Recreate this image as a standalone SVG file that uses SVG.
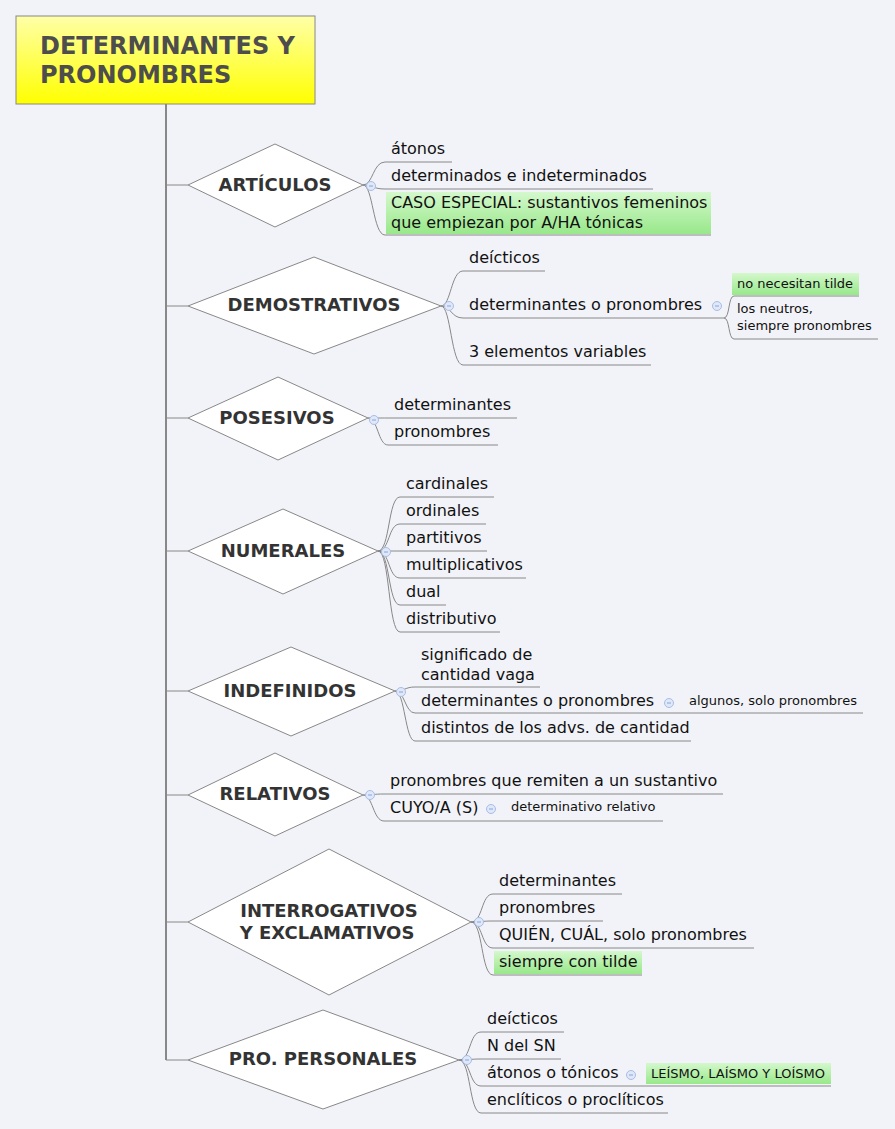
<svg xmlns="http://www.w3.org/2000/svg" width="895" height="1129" viewBox="0 0 895 1129">
<defs>
<linearGradient id="yg" x1="0" y1="0" x2="0" y2="1"><stop offset="0" stop-color="#ffffa8"/><stop offset="1" stop-color="#ffff00"/></linearGradient>
<linearGradient id="gg" x1="0" y1="0" x2="0" y2="1"><stop offset="0" stop-color="#d4f8cc"/><stop offset="1" stop-color="#98e88a"/></linearGradient>
<g id="ic"><circle r="4.5" fill="#dfe8f8" stroke="#a8bde6"/><line x1="-2" x2="2" stroke="#8aa4d8" stroke-width="1"/></g>
</defs>
<style>
text{font-family:"DejaVu Sans",sans-serif;fill:#111}
.c{font-size:16px}
.s{font-size:13px}
.d{font-size:18px;font-weight:bold;fill:#333;text-anchor:middle}
.dia{fill:#fff;stroke:#888;stroke-width:1}
.ln{fill:none;stroke:#888;stroke-width:1}
</style>
<rect width="895" height="1129" fill="#f2f3f8"/>
<g id="connectors" class="ln">
<line x1="166" y1="104" x2="166" y2="1060" stroke-width="2"/>
<path d="M166,185H188M166,306H188M166,418H188M166,551H188M166,691H188M166,795H188M166,922H188M166,1060H188"/>
<path d="M363,185C373,185 373,162 385,162H452M363,185C373,185 373,189 385,189H653M363,185C373,185 373,235 385,235H711"/>
<path d="M441,306C451,306 451,271 463,271H545M441,306C451,306 451,318 463,318H724M441,306C451,306 451,365 463,365H651"/>
<path d="M724,318C730,318 728,296 734,296H859M724,318C730,318 728,339 734,339H878"/>
<path d="M368,418C378,418 378,418 388,418H517M368,418C378,418 378,445 388,445H498"/>
<path d="M378,551C390,551 388,497 400,497H494M378,551C390,551 388,524 400,524H486M378,551C390,551 388,551 400,551H487M378,551C390,551 388,578 400,578H526M378,551C390,551 388,605 400,605H446M378,551C390,551 388,632 400,632H500"/>
<path d="M395,691C405,691 405,687 415,687H540M395,691C405,691 405,713 415,713H863M395,691C405,691 405,741 415,741H691"/>
<path d="M363,795C373,795 373,794 384,794H723M363,795C373,795 373,821 384,821H663"/>
<path d="M471,922C483,922 481,894 493,894H622M471,922C483,922 481,921 493,921H603M471,922C483,922 481,948 493,948H754M471,922C483,922 481,975 493,975H642"/>
<path d="M459,1060C471,1060 469,1032 481,1032H564M459,1060C471,1060 469,1059 481,1059H561M459,1060C471,1060 469,1086 481,1086H646M459,1060C471,1060 469,1113 481,1113H668"/>
<path d="M646,1086H831"/>
</g>
<g id="title"><rect x="16" y="16" width="299" height="88" fill="url(#yg)" stroke="#888"/>
<text x="40" y="54" style="font-size:24px;font-weight:bold;fill:#4d4d4d">DETERMINANTES Y</text>
<text x="40" y="83" style="font-size:24px;font-weight:bold;fill:#4d4d4d">PRONOMBRES</text></g>
<g id="articulos"><polygon class="dia" points="188,185 275,144 363,185 275,227"/><text class="d" x="275" y="191">ARTÍCULOS</text><use href="#ic" x="371" y="186"/></g>
<g id="demostrativos"><polygon class="dia" points="188,306 314,257 441,306 314,354"/><text class="d" x="314" y="311">DEMOSTRATIVOS</text><use href="#ic" x="449" y="306"/></g>
<g id="posesivos"><polygon class="dia" points="188,418 278,377 368,418 278,460"/><text class="d" x="277" y="424">POSESIVOS</text><use href="#ic" x="374" y="420"/></g>
<g id="numerales"><polygon class="dia" points="188,551 283,509 378,551 283,594"/><text class="d" x="283" y="557">NUMERALES</text><use href="#ic" x="386" y="552"/></g>
<g id="indefinidos"><polygon class="dia" points="188,691 291,647 395,691 291,736"/><text class="d" x="290" y="697">INDEFINIDOS</text><use href="#ic" x="401" y="692"/></g>
<g id="relativos"><polygon class="dia" points="188,795 275,753 363,795 275,836"/><text class="d" x="275" y="800">RELATIVOS</text><use href="#ic" x="370" y="795"/></g>
<g id="interrogativos"><polygon class="dia" points="188,922 329,849 471,922 329,995"/><text class="d" x="329" y="917">INTERROGATIVOS</text><text class="d" x="327" y="939">Y EXCLAMATIVOS</text><use href="#ic" x="479" y="922"/></g>
<g id="personales"><polygon class="dia" points="188,1060 323,1010 459,1060 323,1109"/><text class="d" x="323" y="1065">PRO. PERSONALES</text><use href="#ic" x="467" y="1060"/></g>
<g id="leaves">
<text class="c" x="391" y="154">átonos</text>
<text class="c" x="391" y="181">determinados e indeterminados</text>
<rect x="386" y="192" width="325" height="42" fill="url(#gg)"/>
<text class="c" x="391" y="208">CASO ESPECIAL: sustantivos femeninos</text>
<text class="c" x="391" y="228">que empiezan por A/HA tónicas</text>
<text class="c" x="469" y="263">deícticos</text>
<text class="c" x="469" y="310">determinantes o pronombres</text><use href="#ic" x="717" y="306"/>
<rect x="732" y="273" width="127" height="22" fill="url(#gg)"/>
<text class="s" x="737" y="288">no necesitan tilde</text>
<text class="s" x="737" y="313">los neutros,</text>
<text class="s" x="737" y="330">siempre pronombres</text>
<text class="c" x="469" y="357">3 elementos variables</text>
<text class="c" x="394" y="410">determinantes</text>
<text class="c" x="394" y="437">pronombres</text>
<text class="c" x="406" y="489">cardinales</text>
<text class="c" x="406" y="516">ordinales</text>
<text class="c" x="406" y="543">partitivos</text>
<text class="c" x="406" y="570">multiplicativos</text>
<text class="c" x="406" y="597">dual</text>
<text class="c" x="406" y="624">distributivo</text>
<text class="c" x="421" y="660">significado de</text>
<text class="c" x="421" y="680">cantidad vaga</text>
<text class="c" x="421" y="706">determinantes o pronombres</text><use href="#ic" x="669" y="703"/>
<text class="s" x="689" y="705">algunos, solo pronombres</text>
<text class="c" x="421" y="733">distintos de los advs. de cantidad</text>
<text class="c" x="390" y="786">pronombres que remiten a un sustantivo</text>
<text class="c" x="390" y="813">CUYO/A (S)</text><use href="#ic" x="491" y="809"/>
<text class="s" x="511" y="811">determinativo relativo</text>
<text class="c" x="499" y="886">determinantes</text>
<text class="c" x="499" y="913">pronombres</text>
<text class="c" x="499" y="940">QUIÉN, CUÁL, solo pronombres</text>
<rect x="494" y="951" width="148" height="23" fill="url(#gg)"/>
<text class="c" x="499" y="967">siempre con tilde</text>
<text class="c" x="487" y="1024">deícticos</text>
<text class="c" x="487" y="1051">N del SN</text>
<text class="c" x="487" y="1078">átonos o tónicos</text><use href="#ic" x="631" y="1075"/>
<rect x="646" y="1063" width="185" height="21" fill="url(#gg)"/>
<text class="s" x="651" y="1078">LEÍSMO, LAÍSMO Y LOÍSMO</text>
<text class="c" x="487" y="1105">enclíticos o proclíticos</text>
</g>
</svg>
